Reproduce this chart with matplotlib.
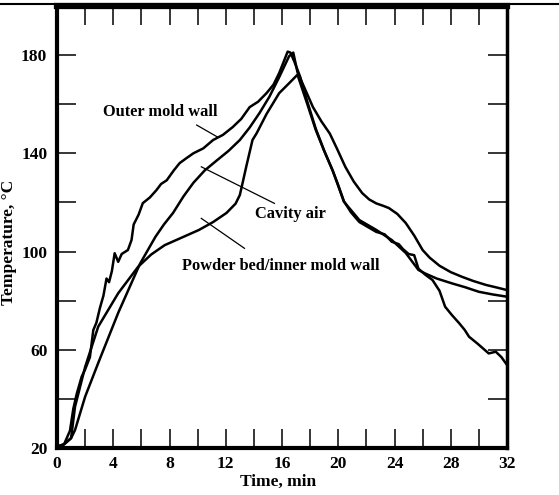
import matplotlib
matplotlib.use('Agg')
import matplotlib.pyplot as plt
from matplotlib.lines import Line2D
from matplotlib.ticker import MultipleLocator

plt.rcParams['font.family'] = ['Liberation Serif', 'DejaVu Serif']
plt.rcParams['font.weight'] = 'bold'

# outer mold wall (jagged trace)
outer_t = [0, 0.5, 0.92, 1.16, 1.4, 1.75, 2.0, 2.34, 2.58, 2.8, 3.05, 3.3, 3.52, 3.7, 3.9,
           4.1, 4.35, 4.6, 5.04, 5.3, 5.45, 5.8, 6.1, 6.6, 7.07, 7.4, 7.8, 8.3, 8.72, 9.2,
           9.7, 10.4, 11.1, 11.8, 12.5, 13.1, 13.7, 14.3, 14.9, 15.4, 15.8, 16.1, 16.4,
           16.6, 16.9, 17.3, 17.8, 18.4, 19.0, 19.6, 20.0, 20.4, 20.9, 21.5, 22.1, 22.7,
           23.3, 23.8, 24.3, 24.6, 25.0, 25.4, 25.7, 26.2, 26.7, 27.2, 27.6, 28.1, 28.6,
           29.0, 29.3, 29.9, 30.4, 30.7, 31.2, 31.6, 32.0]
outer_T = [20.5, 21.5, 27, 36, 42, 49, 52, 57, 68, 71, 77, 82, 89, 87.5, 92,
           99.3, 95.8, 99, 100.6, 104.7, 111, 115, 119.7, 122, 125, 127.5, 129, 133, 136, 138,
           140, 142, 145.4, 147.5, 150.7, 154, 158.8, 161, 164.5, 168, 172.7, 177, 181.4,
           181, 177, 171, 161, 150, 141, 133, 127, 120.5, 116, 112, 110, 108,
           107, 104, 103, 101, 99, 98.5, 93, 90.5, 88.4, 84, 77.5, 74, 70.8,
           68, 65.3, 62.5, 60, 58.5, 59.2, 57, 53.8]

# cavity air
cavity_t = [0, 0.5, 1.0, 1.28, 2.0, 2.93, 4.35, 5.9, 7.0, 7.6, 8.25, 9.0, 9.7, 10.5, 11.3,
            12.2, 13.0, 13.7, 14.4, 15.1, 15.8, 16.5, 16.8, 17.1, 17.6, 18.2, 18.8, 19.4,
            19.9, 20.5, 21.1, 21.7, 22.2, 22.7, 23.2, 23.6, 24.2, 24.8, 25.4, 26.0, 26.5,
            27.2, 28.0, 28.8, 29.6, 30.5, 31.3, 32.0]
cavity_T = [20.5, 21.5, 24, 27.3, 40.9, 54.6, 75, 95, 106, 111, 115.7, 122.5, 128, 133, 136.8,
            141, 145.4, 150.5, 156.4, 163, 171, 179.5, 181, 173, 166.6, 158.8, 153, 148,
            142, 134.5, 128.5, 123.8, 121.2, 119.6, 118.6, 117.7, 115.3, 111.6, 106.5, 100.6, 97.5,
            94.2, 91.6, 89.7, 88, 86.4, 85.3, 84.3]

# powder bed / inner mold wall
powder_t = [0, 0.5, 1.0, 1.28, 2.0, 2.93, 4.35, 5.77, 6.7, 7.66, 9.0, 10.1, 11.1, 12.05, 12.7,
            13.0, 13.2, 13.45, 13.9, 14.2, 14.9, 15.8, 16.5, 17.1, 17.8, 18.4, 19.0, 19.6,
            20.4, 21.5, 22.7, 23.8, 24.8, 25.7, 26.2, 27.0, 28.1, 29.0, 30.0, 31.0, 32.0]
powder_T = [20.5, 21.5, 24, 36.8, 53, 69.4, 83, 93.8, 98.8, 102.6, 106, 108.8, 112, 115.7, 119.5,
            123, 128, 134.4, 145.4, 148.2, 156, 164.5, 168.5, 172, 160, 149.5, 141, 133,
            120.3, 112.8, 108.8, 104.7, 99.4, 92.5, 91, 89, 87, 85.5, 83.6, 82.5, 81.6]

fig = plt.figure(figsize=(5.59, 4.95), dpi=100)
ax = fig.add_axes([0.102, 0.095, 0.805, 0.893])

for t, T in [(outer_t, outer_T), (cavity_t, cavity_T), (powder_t, powder_T)]:
    ax.plot(t, T, color='black', lw=1.8, solid_joinstyle='round')

# leader lines and labels
ax.plot([9.93, 11.42], [151.5, 146.6], color='black', lw=0.9)
ax.plot([10.26, 15.46], [134.5, 119.6], color='black', lw=0.9)
ax.plot([10.26, 13.33], [113.5, 101.3], color='black', lw=0.9)
ax.text(3.25, 157, 'Outer mold wall', fontsize=11.8, fontweight='bold', va='center')
ax.text(14.05, 115.1, 'Cavity air', fontsize=11.8, fontweight='bold', va='center')
ax.text(8.9, 94.1, 'Powder bed/inner mold wall', fontsize=11.8, fontweight='bold', va='center')

ax.set_xlim(0, 32)
ax.set_ylim(20, 200)
ax.set_xticks([0, 4, 8, 12, 16, 20, 24, 28, 32])
ax.set_yticks([20, 60, 100, 140, 180])
ax.xaxis.set_minor_locator(MultipleLocator(2))
ax.yaxis.set_minor_locator(MultipleLocator(20))
ax.tick_params(which='both', direction='in', top=True, right=True, length=14, width=1.1)
ax.tick_params(axis='x', which='major', pad=6, labelsize=12.5)
ax.tick_params(axis='y', which='major', pad=7, labelsize=12.5)

for name, w in [('left', 3), ('bottom', 3), ('right', 2.5), ('top', 4.5)]:
    ax.spines[name].set_linewidth(w)

ax.set_xlabel('Time, min', fontsize=12.5, fontweight='bold')
ax.set_ylabel('Temperature, °C', fontsize=12.5, fontweight='bold')
ax.xaxis.set_label_coords(0.491, -0.058)
ax.yaxis.set_label_coords(-0.089, 0.466)

# thin rule across the top of the page
fig.add_artist(Line2D([0, 1], [0.991, 0.991], transform=fig.transFigure,
                      color='black', lw=1.5))

fig.savefig('out.png', dpi=100)
